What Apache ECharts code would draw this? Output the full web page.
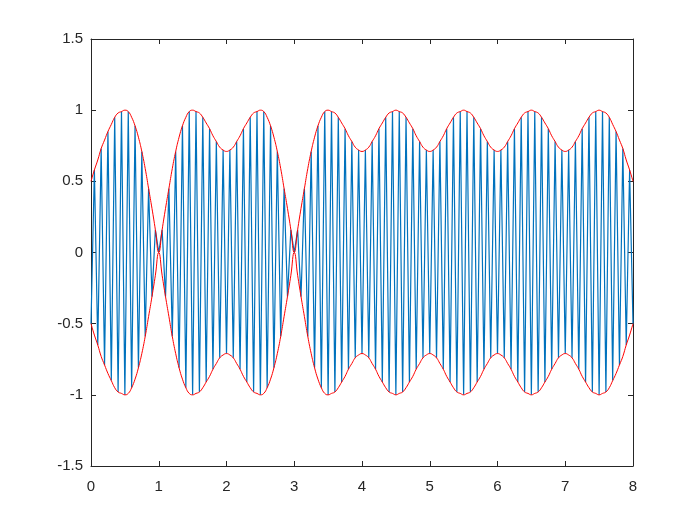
<!DOCTYPE html>
<html lang="en">
<head>
    <meta charset="UTF-8">
    <title>Modulated carrier</title>
    <style>
        *{
            padding:0;
            margin:0;
        }
        html, body{
            height:100%;
            width:100%;
            background:#fff;
        }
        #main{
            width:700px;
            height:525px;
        }
    </style>
    <script src="https://cdn.jsdelivr.net/npm/echarts@6/dist/echarts.min.js"></script>
</head>
<body>
<div id="main"></div>
<script>
    // envelope, one value every half carrier cycle (0.05 s), t = 0 .. 8
    var sampleStep = 0.05;
    var envelope = [
        0.50, 0.58, 0.65, 0.73, 0.79, 0.85, 0.90, 0.95, 0.98, 0.99, 1.00,
        0.99, 0.95, 0.89, 0.81, 0.71, 0.59, 0.45, 0.31, 0.16, 0.00,
        0.16, 0.31, 0.45, 0.59, 0.71, 0.81, 0.89, 0.95, 0.99, 1.00,
        0.99, 0.98, 0.95, 0.91, 0.87, 0.82, 0.78, 0.74, 0.72, 0.71,
        0.72, 0.74, 0.78, 0.82, 0.87, 0.91, 0.95, 0.98, 0.99, 1.00,
        0.99, 0.95, 0.89, 0.81, 0.71, 0.59, 0.45, 0.31, 0.16, 0.00,
        0.16, 0.31, 0.45, 0.59, 0.71, 0.81, 0.89, 0.95, 0.99, 1.00,
        0.99, 0.98, 0.95, 0.91, 0.87, 0.82, 0.78, 0.74, 0.72, 0.71,
        0.72, 0.74, 0.78, 0.82, 0.87, 0.91, 0.95, 0.98, 0.99, 1.00,
        0.99, 0.98, 0.95, 0.91, 0.87, 0.82, 0.78, 0.74, 0.72, 0.71,
        0.72, 0.74, 0.78, 0.82, 0.87, 0.91, 0.95, 0.98, 0.99, 1.00,
        0.99, 0.98, 0.95, 0.91, 0.87, 0.82, 0.78, 0.74, 0.72, 0.71,
        0.72, 0.74, 0.78, 0.82, 0.87, 0.91, 0.95, 0.98, 0.99, 1.00,
        0.99, 0.98, 0.95, 0.91, 0.87, 0.82, 0.78, 0.74, 0.72, 0.71,
        0.72, 0.74, 0.78, 0.82, 0.87, 0.91, 0.95, 0.98, 0.99, 1.00,
        0.99, 0.98, 0.95, 0.90, 0.85, 0.79, 0.73, 0.65, 0.58, 0.50
    ];
    var xTicks = [0, 1, 2, 3, 4, 5, 6, 7, 8];
    var yTicks = [-1.5, -1, -0.5, 0, 0.5, 1, 1.5];

    var upper = [], lower = [], carrier = [];
    for (var i = 0; i < envelope.length; i++) {
        var t = +(i * sampleStep).toFixed(2);
        upper.push([t, envelope[i]]);
        lower.push([t, -envelope[i]]);
        // carrier peaks alternate sign each half cycle
        carrier.push([t, (i % 2 === 0 ? -1 : 1) * envelope[i]]);
    }

    var axisColor = '#262626';
    var labelFont = {
        color: axisColor,
        fontSize: 15,
        fontFamily: 'Liberation Sans, Arial, sans-serif'
    };

    function xAxis(pos, showLabel) {
        return {
            type: 'value',
            position: pos,
            min: xTicks[0],
            max: xTicks[xTicks.length - 1],
            interval: 1,
            axisLine: {show: true, onZero: false, lineStyle: {color: axisColor, width: 1}},
            axisTick: {show: true, inside: true, length: 5, lineStyle: {color: axisColor}},
            axisLabel: Object.assign({show: showLabel, margin: 13}, labelFont),
            splitLine: {show: false}
        };
    }
    function yAxis(pos, showLabel) {
        return {
            type: 'value',
            position: pos,
            min: yTicks[0],
            max: yTicks[yTicks.length - 1],
            interval: 0.5,
            axisLine: {show: true, onZero: false, lineStyle: {color: axisColor, width: 1}},
            axisTick: {show: true, inside: true, length: 5, lineStyle: {color: axisColor}},
            axisLabel: Object.assign({show: showLabel, margin: 8}, labelFont),
            splitLine: {show: false}
        };
    }

    var myChart = echarts.init(document.getElementById('main'));
    var option = {
        animation: false,
        backgroundColor: '#fff',
        grid: {left: 91, right: 67, top: 39, bottom: 59},
        xAxis: [xAxis('bottom', true), xAxis('top', false)],
        yAxis: [yAxis('left', true), yAxis('right', false)],
        series: [
            {
                type: 'line',
                data: carrier,
                symbol: 'none',
                lineStyle: {color: '#0072BD', width: 1.2},
                z: 2
            },
            {
                type: 'line',
                data: upper,
                symbol: 'none',
                smooth: true,
                lineStyle: {color: '#FF0000', width: 1},
                z: 3
            },
            {
                type: 'line',
                data: lower,
                symbol: 'none',
                smooth: true,
                lineStyle: {color: '#FF0000', width: 1},
                z: 3
            }
        ]
    };
    myChart.setOption(option);
</script>
</body>
</html>
